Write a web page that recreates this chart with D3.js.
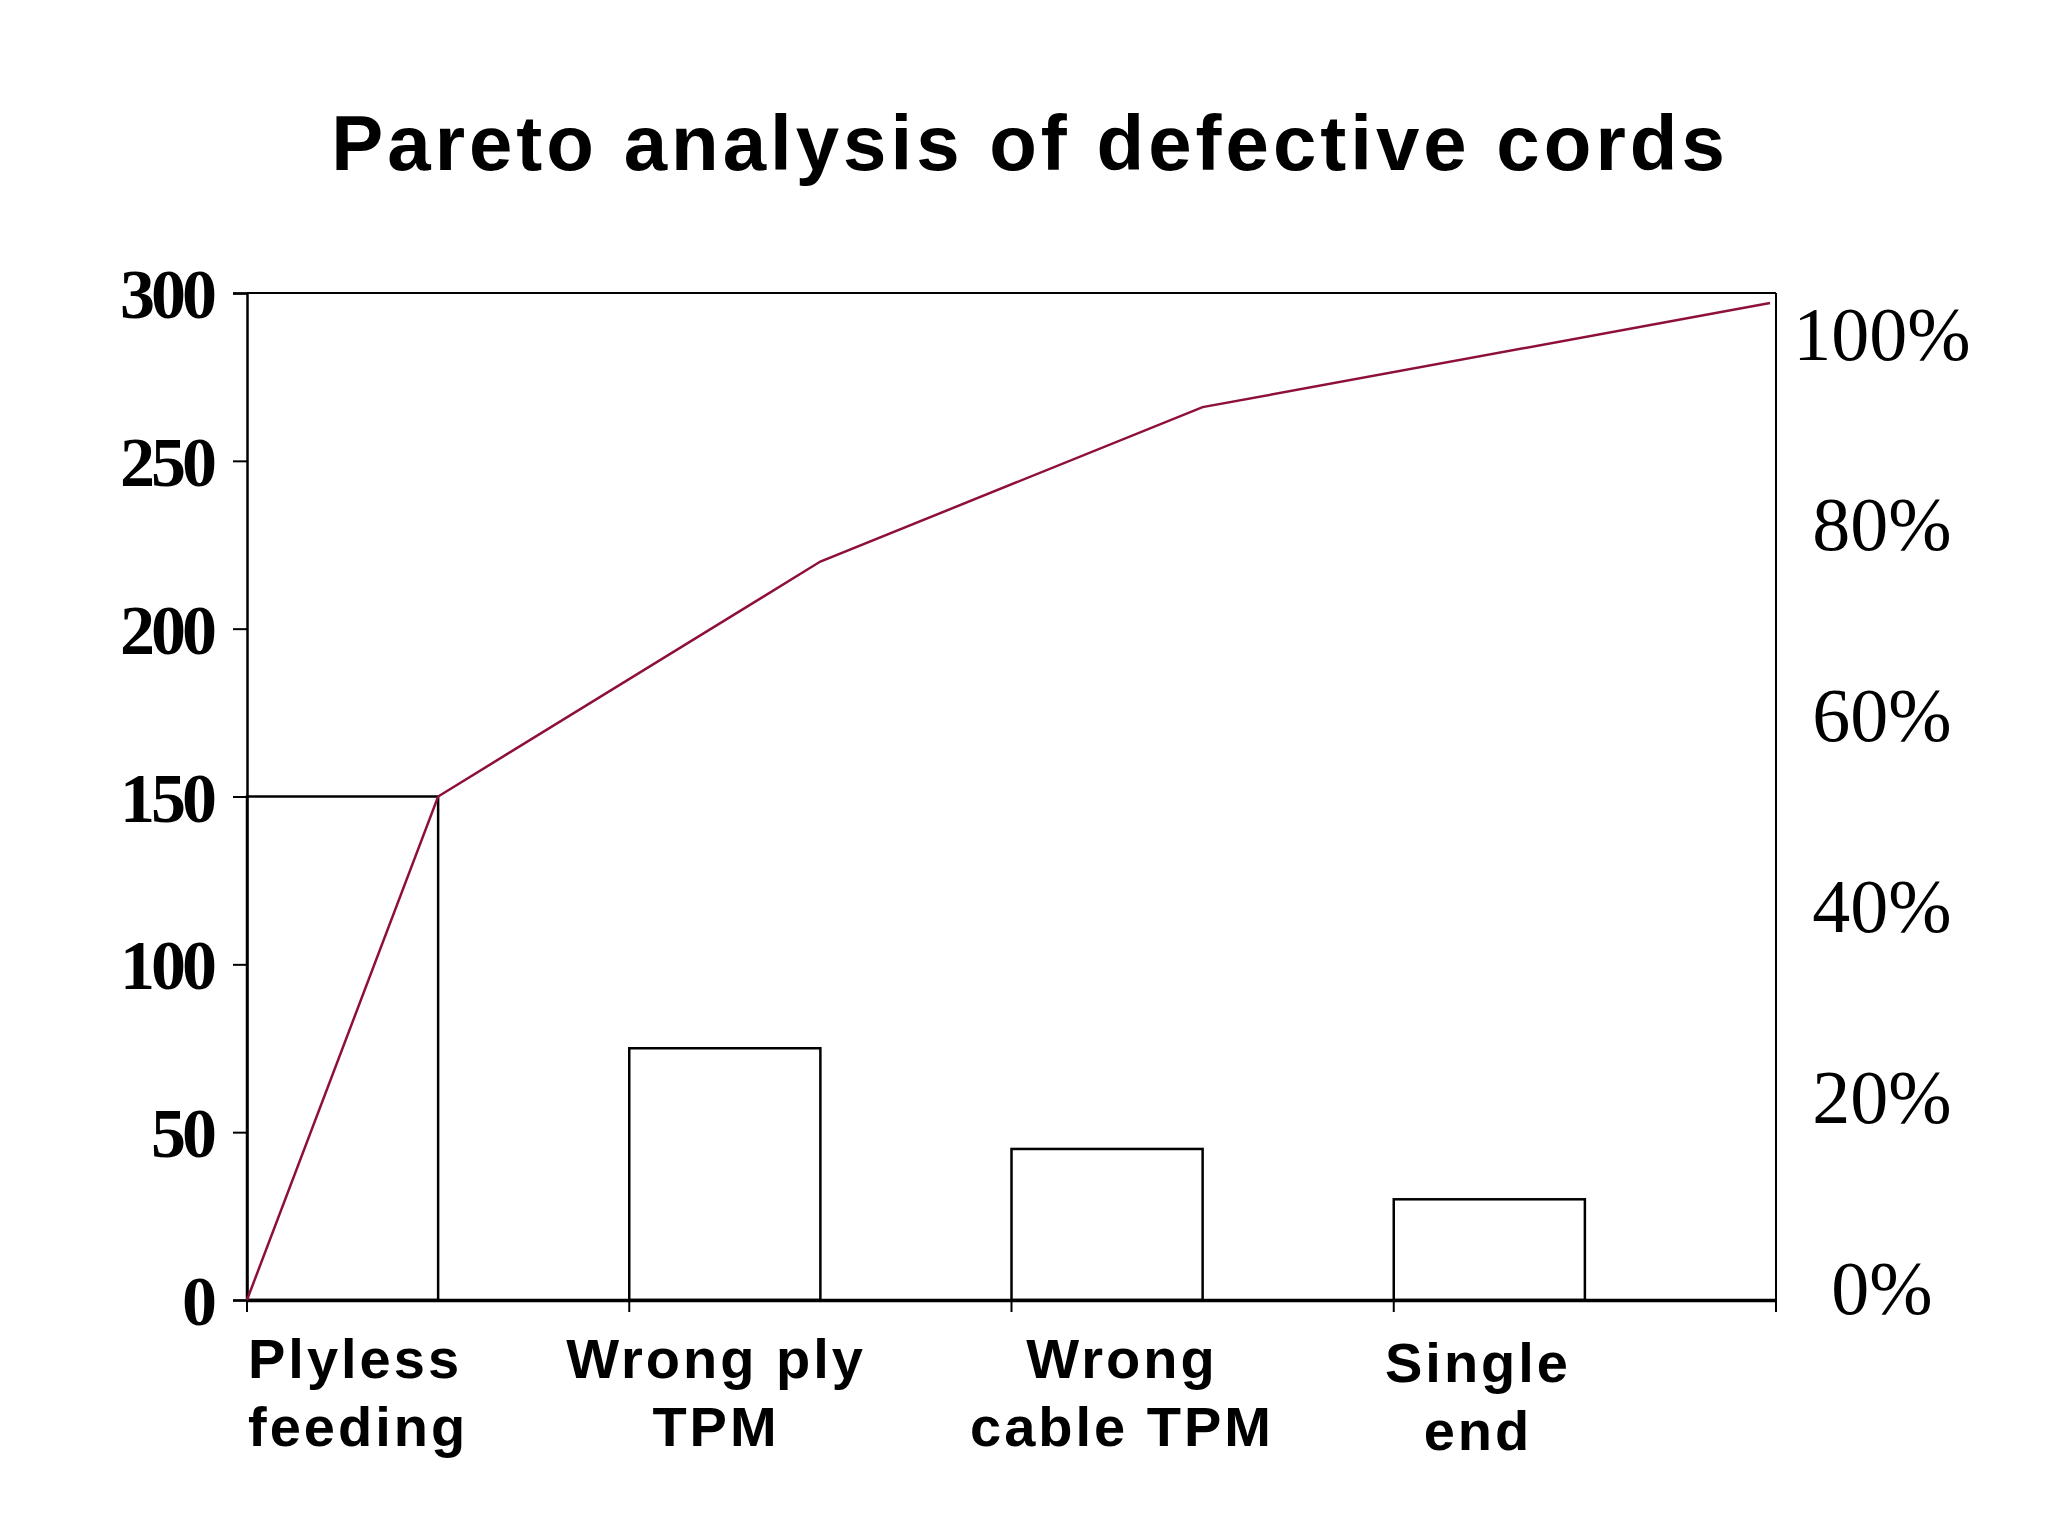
<!DOCTYPE html>
<html><head><meta charset="utf-8">
<script src="https://cdn.jsdelivr.net/npm/d3@7"></script>
<style>body{margin:0;background:#fff}</style></head>
<body><svg id="c" width="2048" height="1536"></svg>
<script>
const categories = ["Plyless|feeding", "Wrong ply|TPM", "Wrong|cable TPM", "Single|end"];
const barValues = [150, 75, 45, 30];
const cumulativeValues = [0, 150, 220, 266, 297];
const leftTicks = [0, 50, 100, 150, 200, 250, 300];
const rightTicks = ["0%", "20%", "40%", "60%", "80%", "100%"];

const svg = d3.select("#c");
const L = 247, R = 1776, T = 293, B = 1300;
const x = d3.scaleBand().domain(categories).range([L, R]).paddingInner(0).paddingOuter(0);
const y = d3.scaleLinear().domain([0, 300]).range([B, T]);
const yp = d3.scalePoint().domain(rightTicks).range([B - 13, 333]);

svg.append("text").attr("x", 1030).attr("y", 170).attr("text-anchor", "middle")
  .attr("font-family", "Liberation Sans, Arial, sans-serif").attr("font-weight", "bold")
  .attr("font-size", 78).attr("letter-spacing", 4).text("Pareto analysis of defective cords");

svg.append("line").attr("x1", L).attr("x2", R).attr("y1", T).attr("y2", T).attr("stroke", "#000").attr("stroke-width", 2);
svg.append("line").attr("x1", R).attr("x2", R).attr("y1", T).attr("y2", B).attr("stroke", "#000").attr("stroke-width", 2);

svg.selectAll("rect.bar").data(barValues).join("rect")
  .attr("x", (d, i) => x(categories[i])).attr("width", x.bandwidth() / 2)
  .attr("y", d => y(d)).attr("height", d => y(0) - y(d))
  .attr("fill", "none").attr("stroke", "#000").attr("stroke-width", 2.5);

const ga = svg.append("g").attr("transform", `translate(${L},0)`)
  .call(d3.axisLeft(y).tickValues(leftTicks).tickSize(14).tickPadding(20));
ga.select(".domain").attr("stroke-width", 2.5);
ga.selectAll("line").attr("stroke-width", 2);
ga.selectAll("text").attr("font-family", "Liberation Serif, Times New Roman, serif")
  .attr("font-weight", "bold").attr("font-size", 70).attr("dy", "0.35em")
  .style("letter-spacing", "-4px");

const gb = svg.append("g").attr("transform", `translate(0,${B})`)
  .call(d3.axisBottom(x).tickValues([]).tickSize(0));
gb.select(".domain").attr("stroke-width", 3.5);
const bt = d3.range(categories.length + 1).map(i => L + i * x.bandwidth());
svg.selectAll("line.bt").data(bt).join("line").attr("x1", d => d).attr("x2", d => d)
  .attr("y1", B).attr("y2", B + 12).attr("stroke", "#000").attr("stroke-width", 2);

const labelX = [248, 716, 1122, 1478];
const anchors = ["start", "middle", "middle", "middle"];
categories.forEach((c, i) => {
  const t = svg.append("text").attr("x", labelX[i]).attr("text-anchor", anchors[i])
    .attr("font-family", "Liberation Sans, Arial, sans-serif").attr("font-weight", "bold")
    .attr("font-size", 56).attr("letter-spacing", 3);
  c.split("|").forEach((s, k) => t.append("tspan").attr("x", labelX[i])
    .attr("y", (i === 3 ? 1382 : 1378) + k * 68).text(s));
});

svg.selectAll("text.pct").data(rightTicks).join("text")
  .attr("x", 1882).attr("y", d => yp(d)).attr("dy", "0.35em").attr("text-anchor", "middle")
  .attr("font-family", "Liberation Serif, Times New Roman, serif").attr("font-size", 76)
  .text(d => d);

const lx = [L, ...categories.map(c => x(c) + x.bandwidth() / 2)];
lx[4] = R - 6;
svg.append("path").datum(cumulativeValues)
  .attr("d", d3.line().x((d, i) => lx[i]).y(d => y(d)))
  .attr("fill", "none").attr("stroke", "#8e1038").attr("stroke-width", 2.5);
</script></body></html>
